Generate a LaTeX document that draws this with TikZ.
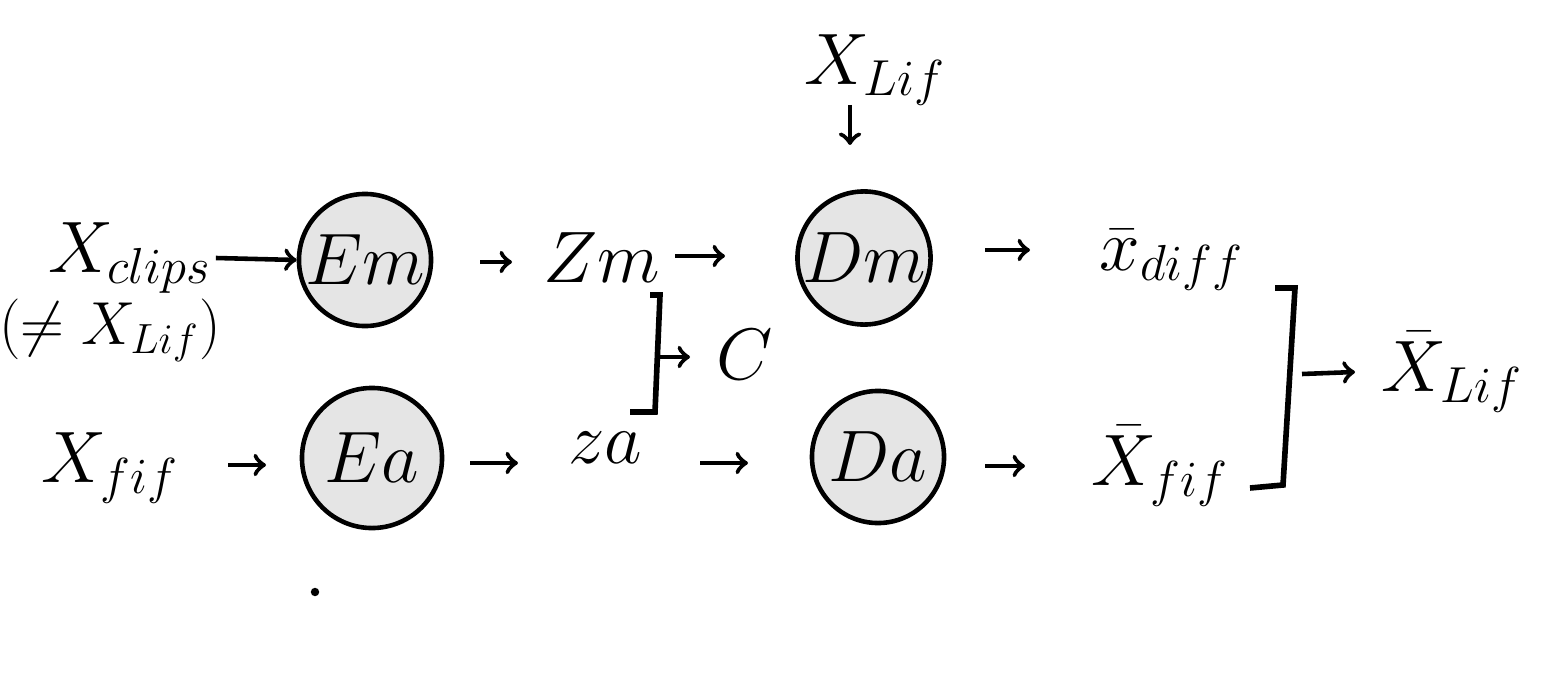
\documentclass[tikz,border=0pt]{standalone}
\usepackage{fontspec}
\begin{document}
\begin{tikzpicture}[x=0.01cm,y=-0.01cm,
  enc/.style={circle,draw,line width=1.3pt,fill=gray!20,minimum size=1.32cm,inner sep=0pt,font=\fontsize{20}{24}\selectfont},
  lab/.style={inner sep=1pt,font=\fontsize{20}{24}\selectfont},
  arr/.style={->,line width=1.3pt},
  br/.style={line width=1.6pt}]
\useasboundingbox (0,0) rectangle (1561,679);
\node[enc] (em) at (365,260) {$Em$};
\node[enc,minimum size=1.4cm] (ea) at (372,458) {$Ea$};
\node[enc] (dm) at (864,258) {$Dm$};
\node[enc] (da) at (878,457) {$Da$};
\node[lab] (xc) at (130,258) {$X_{clips}$};
\node[lab,font=\fontsize{18}{22}\selectfont] (ne) at (110,330) {$(\neq X_{Lif})$};
\node[lab] (xf) at (110,468) {$X_{fif}$};
\node[lab] (zm) at (602,258) {$Zm$};
\node[lab] (za) at (605,448) {$za$};
\node[lab] (xt) at (875,70) {$X_{Lif}$};
\node[lab] (xd) at (1172,260) {$\bar{x}_{diff}$};
\node[lab] (xff) at (1160,466) {$\bar{X}_{fif}$};
\node[lab] (c) at (745,355) {$C$};
\node[lab] (xl) at (1452,372) {$\bar{X}_{Lif}$};
\coordinate (p1) at (480,262); \coordinate (q1) at (512,262);
\coordinate (p2) at (228,465); \coordinate (q2) at (266,465);
\coordinate (p3) at (470,463); \coordinate (q3) at (518,463);
\coordinate (p4) at (700,463); \coordinate (q4) at (748,463);
\coordinate (p5) at (985,250); \coordinate (q5) at (1030,250);
\coordinate (p6) at (985,466); \coordinate (q6) at (1025,466);
\coordinate (p7) at (850,105); \coordinate (q7) at (850,145);
\coordinate (p8) at (675,256); \coordinate (q8) at (725,256);
\draw[arr] (xc.east) -- (em.west);
\draw[arr] (p1) -- (q1);
\draw[arr] (p2) -- (q2);
\draw[arr] (p3) -- (q3);
\draw[arr] (p4) -- (q4);
\draw[arr] (p5) -- (q5);
\draw[arr] (p6) -- (q6);
\draw[arr] (p7) -- (q7);
\draw[arr] (p8) -- (q8);
\draw[br] (650,295) -- (660,295) -- (655,412) -- (630,412);
\coordinate (b1) at (660,357); \coordinate (c1) at (690,357);
\draw[arr] (b1) -- (c1);
\draw[br] (1275,288) -- (1295,288) -- (1283,485) -- (1250,488);
\coordinate (b2) at (1302,374); \coordinate (c2) at (1355,372);
\draw[arr] (b2) -- (c2);
\fill (315,592) circle (1.2pt);
\end{tikzpicture}
\end{document}
